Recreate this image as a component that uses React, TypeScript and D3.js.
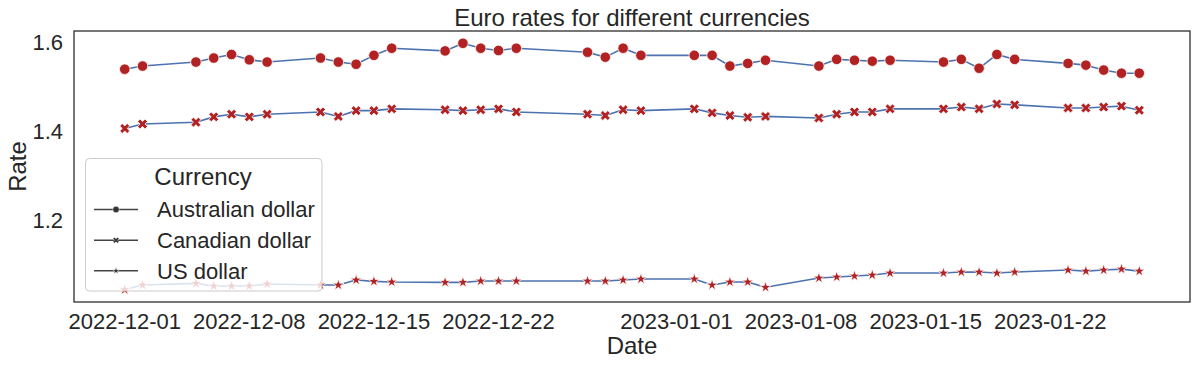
import React from "react";
import * as d3 from "d3";

const dates = [
  "2022-12-01","2022-12-02","2022-12-05","2022-12-06","2022-12-07","2022-12-08","2022-12-09",
  "2022-12-12","2022-12-13","2022-12-14","2022-12-15","2022-12-16",
  "2022-12-19","2022-12-20","2022-12-21","2022-12-22","2022-12-23",
  "2022-12-27","2022-12-28","2022-12-29","2022-12-30",
  "2023-01-02","2023-01-03","2023-01-04","2023-01-05","2023-01-06",
  "2023-01-09","2023-01-10","2023-01-11","2023-01-12","2023-01-13",
  "2023-01-16","2023-01-17","2023-01-18","2023-01-19","2023-01-20",
  "2023-01-23","2023-01-24","2023-01-25","2023-01-26","2023-01-27",
];

const audValues = [
  1.539,1.546,1.555,1.564,1.572,1.560,1.555,1.564,1.555,1.550,1.570,1.586,
  1.580,1.597,1.586,1.581,1.586,
  1.577,1.566,1.586,1.570,
  1.570,1.570,1.546,1.552,1.559,
  1.546,1.561,1.559,1.557,1.559,
  1.555,1.561,1.541,1.572,1.561,
  1.552,1.548,1.537,1.530,1.530,
];

const cadValues = [
  1.406,1.416,1.420,1.432,1.438,1.432,1.438,1.443,1.433,1.446,1.446,1.450,
  1.448,1.446,1.448,1.450,1.443,
  1.438,1.435,1.448,1.446,
  1.450,1.441,1.435,1.431,1.433,
  1.4295,1.438,1.443,1.443,1.450,
  1.450,1.454,1.450,1.461,1.459,
  1.452,1.452,1.454,1.456,1.447,
];

const usdValues = [
  1.0443,1.0547,1.0585,1.0525,1.0525,1.0525,1.057,1.0547,1.0547,1.066,1.063,1.0615,
  1.0607,1.0607,1.0637,1.0637,1.0637,
  1.0637,1.0637,1.066,1.0682,
  1.0682,1.0547,1.0615,1.0615,1.0496,
  1.0704,1.0727,1.0749,1.0771,1.0816,
  1.0816,1.0838,1.0838,1.0816,1.0838,
  1.0883,1.086,1.0883,1.0905,1.086,
];

const seriesNames = ["Australian dollar", "Canadian dollar", "US dollar"];
const markerKinds = ["circle", "x", "star"];
const xTickLabels = ["2022-12-01","2022-12-08","2022-12-15","2022-12-22","2023-01-01","2023-01-08","2023-01-15","2023-01-22"];
const yTickValues = [1.2, 1.4, 1.6];

const W = 1197, H = 366;
const left = 74, right = 1190, top = 31, bottom = 302;
const TEXT = "#262626";
const LINE = "#4c72b0";
const MARK = "#b22222";
const FONT = "'Liberation Sans', Arial, sans-serif";

function markerPath(kind: string, size: number): string {
  if (kind === "circle") {
    const r = size / 2;
    return `M${r},0A${r},${r} 0 1,1 ${-r},0A${r},${r} 0 1,1 ${r},0Z`;
  }
  if (kind === "x") {
    const pts = [[-1,-3],[1,-3],[1,-1],[3,-1],[3,1],[1,1],[1,3],[-1,3],[-1,1],[-3,1],[-3,-1],[-1,-1]];
    const c = Math.cos(Math.PI / 4), s = Math.sin(Math.PI / 4);
    return "M" + pts.map(([x, y]) => {
      const px = (x / 6) * size, py = (y / 6) * size;
      return `${(px * c - py * s).toFixed(2)},${(px * s + py * c).toFixed(2)}`;
    }).join("L") + "Z";
  }
  const R = size / 2, r = R * 0.381966;
  const pts: string[] = [];
  for (let i = 0; i < 10; i++) {
    const a = (i * Math.PI) / 5;
    const rad = i % 2 === 0 ? R : r;
    pts.push(`${(rad * Math.sin(a)).toFixed(2)},${(-rad * Math.cos(a)).toFixed(2)}`);
  }
  return "M" + pts.join("L") + "Z";
}

const markerSizes = [10.5, 10.5, 12];
const legendMarkerSizes = [6.5, 6.5, 7.5];

export default function App() {
  const parse = d3.timeParse("%Y-%m-%d");
  const ds = dates.map((d) => parse(d) as Date);
  const seriesValues = [audValues, cadValues, usdValues];

  const xMin = +ds[0], xMax = +ds[ds.length - 1];
  const xPad = (xMax - xMin) * 0.05;
  const x = d3.scaleTime().domain([new Date(xMin - xPad), new Date(xMax + xPad)]).range([left, right]);

  const all = seriesValues.flat();
  const yMin = d3.min(all) as number, yMax = d3.max(all) as number;
  const yPad = (yMax - yMin) * 0.05;
  const y = d3.scaleLinear().domain([yMin - yPad, yMax + yPad]).range([bottom, top]);

  const line = d3.line<number>().x((_, i) => x(ds[i])).y((v) => y(v));

  const legendRows = [209.5, 240.2, 270.8];

  return (
    <svg width={W} height={H} style={{ position: "absolute", left: 0, top: 0, background: "white" }} fontFamily={FONT}>
      <rect x={0} y={0} width={W} height={H} fill="white" />
      {seriesValues.map((vals, si) => (
        <g key={si}>
          <path d={line(vals) || ""} fill="none" stroke={LINE} strokeWidth={1.6} strokeLinejoin="round" />
          {vals.map((v, i) => (
            <path key={i} d={markerPath(markerKinds[si], markerSizes[si])} transform={`translate(${x(ds[i])},${y(v)})`}
              fill={MARK} stroke="white" strokeWidth={0.75} />
          ))}
        </g>
      ))}
      <rect x={left} y={top} width={right - left} height={bottom - top} fill="none" stroke={TEXT} strokeWidth={1.25} />
      {yTickValues.map((t) => (
        <text key={t} x={left - 11} y={y(t)} dy="0.35em" textAnchor="end" fontSize={22} fill={TEXT}>{t.toFixed(1)}</text>
      ))}
      {xTickLabels.map((t) => (
        <text key={t} x={x(parse(t) as Date)} y={329} textAnchor="middle" fontSize={22} fill={TEXT}>{t}</text>
      ))}
      <text x={(left + right) / 2} y={26} textAnchor="middle" fontSize={24} fill={TEXT}>Euro rates for different currencies</text>
      <text x={(left + right) / 2} y={354} textAnchor="middle" fontSize={24} fill={TEXT}>Date</text>
      <text transform={`translate(26,${(top + bottom) / 2}) rotate(-90)`} textAnchor="middle" fontSize={24} fill={TEXT}>Rate</text>
      <g>
        <rect x={85.5} y={158.5} width={236.5} height={132.5} rx={4} fill="white" fillOpacity={0.8} stroke="#cccccc" strokeWidth={1} />
        <text x={203} y={185} textAnchor="middle" fontSize={24} fill={TEXT}>Currency</text>
        {seriesNames.map((n, i) => (
          <g key={n}>
            <line x1={94} x2={138} y1={legendRows[i]} y2={legendRows[i]} stroke="#444444" strokeWidth={1.6} />
            <path d={markerPath(markerKinds[i], legendMarkerSizes[i])} transform={`translate(116,${legendRows[i]})`} fill="#333333" stroke="white" strokeWidth={0.5} />
            <text x={157} y={legendRows[i]} dy="0.35em" fontSize={22} fill={TEXT}>{n}</text>
          </g>
        ))}
      </g>
    </svg>
  );
}
